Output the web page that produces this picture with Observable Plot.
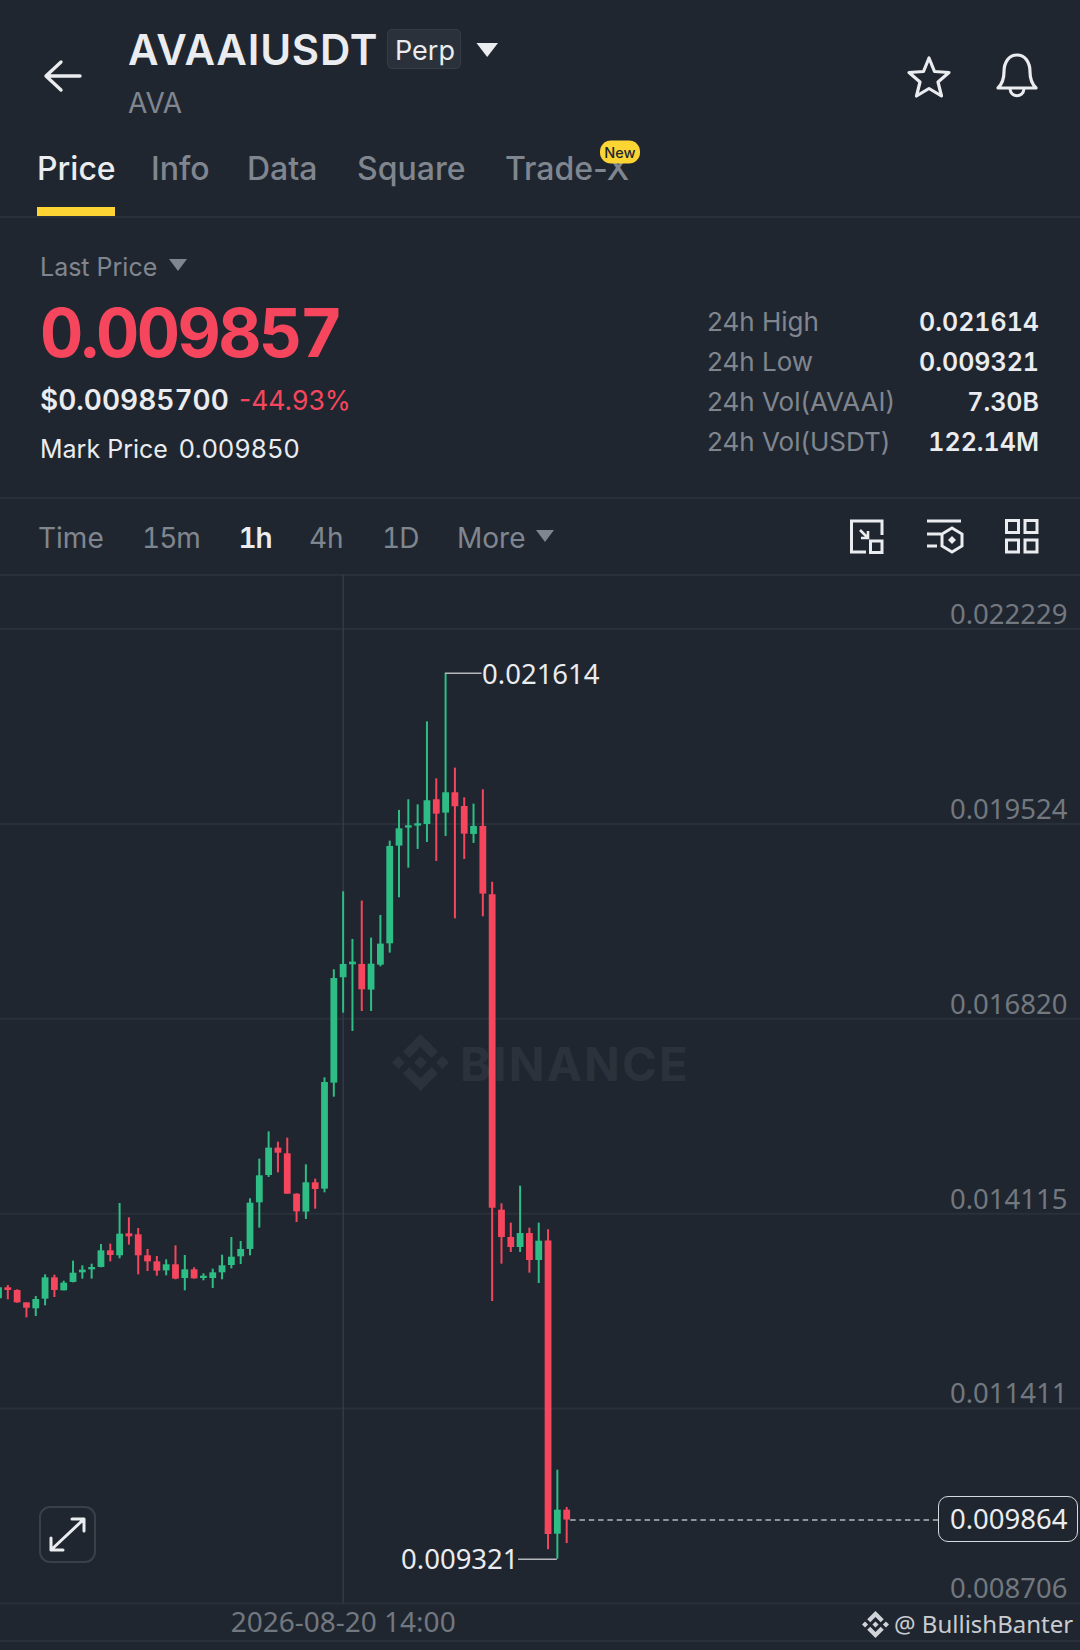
<!DOCTYPE html>
<html>
<head>
<meta charset="utf-8">
<script src="https://cdn.jsdelivr.net/npm/d3@7"></script>
<script src="https://cdn.jsdelivr.net/npm/@observablehq/plot@0.6"></script>
<style>
html,body{margin:0;padding:0;background:#202630;width:1080px;height:1650px;overflow:hidden}
body{position:relative;font-family:Inter,sans-serif;color:#eaecef}
.t{position:absolute;white-space:nowrap;line-height:1;transform:translateY(-50%)}
.m{color:#80868f}
.n{font-feature-settings:"tnum"}
.line{position:absolute;left:0;width:1080px;height:2px;background:#2a303a}
svg.i{position:absolute;overflow:visible}
#chart{position:absolute;left:0;top:575px;width:1080px;height:1075px}
#chart svg{display:block}
</style>
</head>
<body>
<!-- Header -->
<svg class="i" style="left:0;top:0" width="1080" height="575" fill="none">
  <path d="M80 76H47M61 62L46 76L61 90" stroke="#eaecef" stroke-width="3.4" stroke-linecap="round" stroke-linejoin="round"/>
  <path d="M476.5 43H498L487.2 57Z" fill="#eaecef"/>
  <path d="M929 58L934.5 71.5L949 72.5L938 82L941.5 96L929 88.500L916.500 96L920 82L909 72.500L923.500 71.500Z" stroke="#eaecef" stroke-width="3.200" stroke-linejoin="round"/>
  <path d="M998 88C1002 84 1004 80 1004 72C1004 62 1009 55 1017 55C1025 55 1030 62 1030 72C1030 80 1032 84 1036 88Z" stroke="#eaecef" stroke-width="3.200" stroke-linejoin="round"/>
  <path d="M1010 89C1011 98 1023 98 1024 89" stroke="#eaecef" stroke-width="3"/>
  <path d="M169 259H187L178 271Z" fill="#80868f"/>
  <path d="M536 530H554L545 542Z" fill="#80868f"/>
  <g stroke="#eaecef" stroke-width="3">
    <path d="M866 521H851.500V552H866M851.500 521H882V535"/>
    <rect x="870.500" y="541" width="11.500" height="11.500"/>
    <path d="M860 530L868 538M868 531V538H861" stroke-width="2.600"/>
    <path d="M927 521H961M927 534H941M927 546H937"/>
    <path d="M952 528L962 534V546L952 552L942 546V534Z"/>
    <path d="M952 536L956 540L952 544L948 540Z" fill="#eaecef" stroke="none"/>
    <rect x="1006.500" y="520.500" width="12" height="12"/><rect x="1025" y="520.500" width="12" height="12"/>
    <rect x="1006.500" y="540" width="12" height="12"/><rect x="1025" y="540" width="12" height="12"/>
  </g>
</svg>
<div class="t" style="left:128px;top:50px;font-size:42px;font-weight:600;letter-spacing:.8px">AVAAIUSDT</div>
<div style="position:absolute;left:387px;top:29px;width:74px;height:40px;border-radius:5px;background:#2b313b;border:1px solid #363c47;box-sizing:border-box"></div>
<div class="t" style="left:395px;top:50px;font-size:27px;">Perp</div>
<div class="t m" style="left:128px;top:103px;font-size:28px">AVA</div>
<div class="t" style="left:37px;top:169px;font-size:32px;font-weight:500">Price</div>
<div class="t m" style="left:151px;top:169px;font-size:32px;font-weight:500">Info</div>
<div class="t m" style="left:247px;top:169px;font-size:32px;font-weight:500">Data</div>
<div class="t m" style="left:357px;top:169px;font-size:32px;font-weight:500">Square</div>
<div class="t m" style="left:505px;top:169px;font-size:32px;font-weight:500">Trade-X</div>
<div class="t" style="left:600px;top:152px;width:40px;height:23px;line-height:23px;border-radius:11px;background:#fcd535;color:#202630;font-size:14.500px;font-weight:500;text-align:center">New</div>
<div style="position:absolute;left:37px;top:207px;width:78px;height:9px;background:#fcd535"></div>
<div class="line" style="top:216px"></div>

<div class="t m" style="left:40px;top:267px;font-size:25px">Last Price</div>
<div class="t n" style="left:40px;top:332px;font-size:67px;font-weight:700;color:#f6465d;letter-spacing:-2.600px">0.009857</div>
<div class="t n" style="left:40px;top:400px;font-size:28px;font-weight:600">$0.00985700</div>
<div class="t" style="left:239px;top:400px;font-size:26.500px;color:#f6465d">-44.93%</div>
<div class="t" style="left:40px;top:449px;font-size:25px">Mark Price</div>
<div class="t n" style="left:178.500px;top:449px;font-size:25.700px;letter-spacing:-.3px">0.009850</div>

<div class="t m" style="left:707px;top:322px;font-size:26px">24h High</div>
<div class="t m" style="left:707px;top:362px;font-size:26px">24h Low</div>
<div class="t m" style="left:707px;top:402px;font-size:26px">24h Vol(AVAAI)</div>
<div class="t m" style="left:707px;top:442px;font-size:26px">24h Vol(USDT)</div>
<div class="t n" style="right:41px;top:322px;font-size:25px;font-weight:600">0.021614</div>
<div class="t n" style="right:41px;top:362px;font-size:25px;font-weight:600">0.009321</div>
<div class="t n" style="right:41px;top:402px;font-size:25px;font-weight:600">7.30B</div>
<div class="t n" style="right:41px;top:442px;font-size:25px;font-weight:600">122.14M</div>
<div class="line" style="top:497px"></div>

<div class="t m" style="left:38px;top:538px;font-size:28px">Time</div>
<div class="t m n" style="left:142px;top:538px;font-size:28px;letter-spacing:-1px">15m</div>
<div class="t n" style="left:238.500px;top:538px;font-size:28px;font-weight:600;letter-spacing:-1px">1h</div>
<div class="t m" style="left:309px;top:538px;font-size:28px">4h</div>
<div class="t m n" style="left:382px;top:538px;font-size:28px;letter-spacing:-1px">1D</div>
<div class="t m" style="left:457px;top:538px;font-size:28px">More</div>
<div class="line" style="top:574px"></div>

<!-- Watermark, behind the chart -->
<svg class="i" style="left:392px;top:1034px" width="57" height="57" viewBox="0 0 24 24" fill="#2c323c"><path d="M16.624 13.9202l2.7175 2.7154-7.353 7.353-7.353-7.352 2.7175-2.7164 4.6355 4.6595 4.6356-4.6595zm4.6366-4.6366L24 12l-2.7154 2.7164L18.5682 12l2.6924-2.7164zm-9.272.001l2.7163 2.6914-2.7164 2.7174v-.001L9.2721 12l2.7164-2.7154zm-9.2722-.001L5.4088 12l-2.6914 2.6924L0 12l2.7164-2.7164zM11.9885.0115l7.353 7.329-2.7174 2.7154-4.6356-4.6356-4.6355 4.6595-2.7174-2.7154 7.353-7.353z"/></svg>
<div class="t" style="left:460px;top:1063px;font-size:47px;font-weight:700;color:#2c323c;letter-spacing:2.200px">BINANCE</div>

<div id="chart"></div>

<!-- Overlays -->
<div style="position:absolute;left:938px;top:1496px;width:140px;height:46px;box-sizing:border-box;border:1.500px solid #d6d9dd;border-radius:10px"></div>
<div style="position:absolute;left:39px;top:1506px;width:57px;height:57px;box-sizing:border-box;border:2px solid #3a404a;border-radius:11px"></div>
<svg class="i" style="left:39px;top:1506px" width="57" height="57" fill="none" stroke="#eaecef" stroke-width="3" stroke-linecap="round" stroke-linejoin="round">
  <path d="M12 44L45 13M33 13H45V25M12 32V44H24"/>
</svg>
<div class="line" style="top:1640px"></div>
<svg class="i" style="left:862px;top:1611px" width="27" height="27" viewBox="0 0 24 24" fill="#d0d3d8"><path d="M16.624 13.9202l2.7175 2.7154-7.353 7.353-7.353-7.352 2.7175-2.7164 4.6355 4.6595 4.6356-4.6595zm4.6366-4.6366L24 12l-2.7154 2.7164L18.5682 12l2.6924-2.7164zm-9.272.001l2.7163 2.6914-2.7164 2.7174v-.001L9.2721 12l2.7164-2.7154zm-9.2722-.001L5.4088 12l-2.6914 2.6924L0 12l2.7164-2.7164zM11.9885.0115l7.353 7.329-2.7174 2.7154-4.6356-4.6356-4.6355 4.6595-2.7174-2.7154 7.353-7.353z"/></svg>
<div class="t" style="left:894px;top:1624px;font-family:'Noto Sans';font-size:24px;color:#c9ccd1">@ BullishBanter</div>

<script>
const opens = [0.012934,0.013087,0.013050,0.012878,0.012795,0.012929,0.013225,0.013045,0.013161,0.013295,0.013336,0.013369,0.013600,0.013531,0.013836,0.013822,0.013531,0.013447,0.013322,0.013406,0.013216,0.013336,0.013216,0.013216,0.013295,0.013396,0.013517,0.013619,0.014266,0.014645,0.015025,0.014946,0.014386,0.014137,0.014544,0.014456,0.015927,0.017389,0.017569,0.017574,0.017218,0.017564,0.017860,0.019216,0.019466,0.019493,0.019516,0.019859,0.019674,0.019956,0.019766,0.019378,0.019489,0.018540,0.014164,0.013785,0.013646,0.013840,0.013466,0.013738,0.009668,0.010001];
const closes = [0.013087,0.013050,0.012878,0.012804,0.012925,0.013225,0.013050,0.013151,0.013290,0.013332,0.013369,0.013600,0.013535,0.013831,0.013794,0.013531,0.013447,0.013318,0.013406,0.013207,0.013336,0.013211,0.013248,0.013295,0.013392,0.013512,0.013619,0.014261,0.014641,0.015025,0.014955,0.014386,0.014141,0.014544,0.014451,0.015936,0.017379,0.017574,0.017606,0.017222,0.017578,0.017856,0.019211,0.019456,0.019498,0.019526,0.019845,0.019660,0.019956,0.019762,0.019382,0.019489,0.018550,0.014192,0.013785,0.013646,0.013840,0.013466,0.013734,0.009663,0.010001,0.009864];
const highs = [0.013087,0.013119,0.013059,0.012878,0.012966,0.013267,0.013262,0.013179,0.013457,0.013392,0.013415,0.013688,0.013693,0.014257,0.014058,0.013910,0.013619,0.013521,0.013475,0.013669,0.013535,0.013364,0.013281,0.013346,0.013540,0.013785,0.013730,0.014322,0.014872,0.015251,0.015108,0.015163,0.014391,0.014793,0.014595,0.016001,0.017500,0.018582,0.017921,0.018453,0.017939,0.018254,0.019285,0.019711,0.019859,0.019789,0.020941,0.020150,0.021614,0.020298,0.019886,0.019799,0.019997,0.018716,0.014252,0.013984,0.014497,0.013914,0.013984,0.013891,0.010556,0.010038];
const lows = [0.012934,0.012920,0.012874,0.012670,0.012689,0.012837,0.012952,0.013045,0.013156,0.013207,0.013207,0.013364,0.013447,0.013489,0.013679,0.013267,0.013313,0.013248,0.013253,0.013198,0.013045,0.013207,0.013184,0.013077,0.013198,0.013350,0.013410,0.013531,0.013915,0.014618,0.014682,0.014386,0.013993,0.014035,0.014178,0.014405,0.015732,0.016898,0.016644,0.016921,0.016921,0.017541,0.017731,0.018499,0.018910,0.019170,0.019267,0.019003,0.019350,0.018207,0.019031,0.019253,0.018235,0.012897,0.013415,0.013577,0.013577,0.013290,0.013146,0.009451,0.009321,0.009538];
const yTicks = [0.022229,0.019524,0.016820,0.014115,0.011411,0.008706];
const lastPrice = 0.009864;
const highPrice = 0.021614;
const lowPrice = 0.009321;
const firstCandle = new Date("2026-08-19T01:00:00Z");
const cursorTime = new Date("2026-08-20T14:00:00Z");
const xDomain = [new Date("2026-08-19T01:12:47Z"), new Date("2026-08-23T21:10:00Z")];
const yDomain = [0.008054, 0.022971];
const UP = "#2ebd85", DOWN = "#f6465d", GRID = "#2a303a", AXIS = "#72787f", ANNOT = "#b4b7bc";

const candles = opens.map((o, i) => ({
  time: d3.utcHour.offset(firstCandle, i),
  open: o, close: closes[i], high: highs[i], low: lows[i],
  color: closes[i] >= o ? UP : DOWN
}));
const highCandle = candles.find(d => d.high === highPrice);
const lowCandle = candles.find(d => d.low === lowPrice);
const lastCandle = candles[candles.length - 1];
const fmt = d3.format(".6f");

const plot = Plot.plot({
  width: 1080, height: 1075,
  marginTop: 0, marginRight: 0, marginBottom: 0, marginLeft: 0,
  style: {background: "transparent", fontFamily: "'Noto Sans'", fontSize: "27px"},
  x: {type: "utc", domain: xDomain},
  y: {domain: yDomain},
  marks: [
    Plot.ruleY(yTicks, {stroke: GRID, strokeWidth: 2}),
    Plot.ruleX([cursorTime], {y1: yTicks[5], y2: yDomain[1], stroke: "#383e48", strokeWidth: 1.3}),
    Plot.axisY(yTicks, {anchor: "right", tickSize: 0, tickPadding: 0, textAnchor: "end", dx: -13, dy: -14, tickFormat: fmt, fill: AXIS, fontSize: 27.5, label: null}),
    Plot.axisX([cursorTime], {anchor: "bottom", tickSize: 0, tickPadding: 0, dy: -38, tickFormat: d3.utcFormat("%Y-%m-%d %H:%M"), fill: AXIS, fontSize: 28, label: null}),
    Plot.ruleY([lastPrice], {x1: lastCandle.time, x2: new Date("2026-08-23T05:42:00Z"), stroke: "#b4b7bc", strokeWidth: 1.6, strokeDasharray: "5.500,3.800", dx: 4}),
    Plot.ruleX(candles, {x: "time", y1: "low", y2: "high", stroke: "color", strokeWidth: 2}),
    Plot.ruleX(candles, {x: "time", y1: "open", y2: "close", stroke: "color", strokeWidth: 6.8}),
    Plot.ruleY([highPrice], {x1: highCandle.time, x2: d3.utcMinute.offset(highCandle.time, 235), stroke: ANNOT, strokeWidth: 1.6}),
    Plot.ruleY([lowPrice], {x1: d3.utcMinute.offset(lowCandle.time, -250), x2: lowCandle.time, stroke: ANNOT, strokeWidth: 1.6}),
    Plot.text([highPrice], {x: d3.utcMinute.offset(highCandle.time, 235), y: d => d, text: fmt, textAnchor: "start", fill: "#eaecef", fontSize: 27.5, dy: 2}),
    Plot.text([lowPrice], {x: d3.utcMinute.offset(lowCandle.time, -250), y: d => d, text: fmt, textAnchor: "end", fill: "#eaecef", fontSize: 27.5, dx: 0, dy: 1}),
    Plot.text([lastPrice], {y: d => d, frameAnchor: "right", dx: -13, text: fmt, textAnchor: "end", fill: "#eaecef", fontSize: 27.5})
  ]
});
document.getElementById("chart").appendChild(plot);
</script>
</body>
</html>
